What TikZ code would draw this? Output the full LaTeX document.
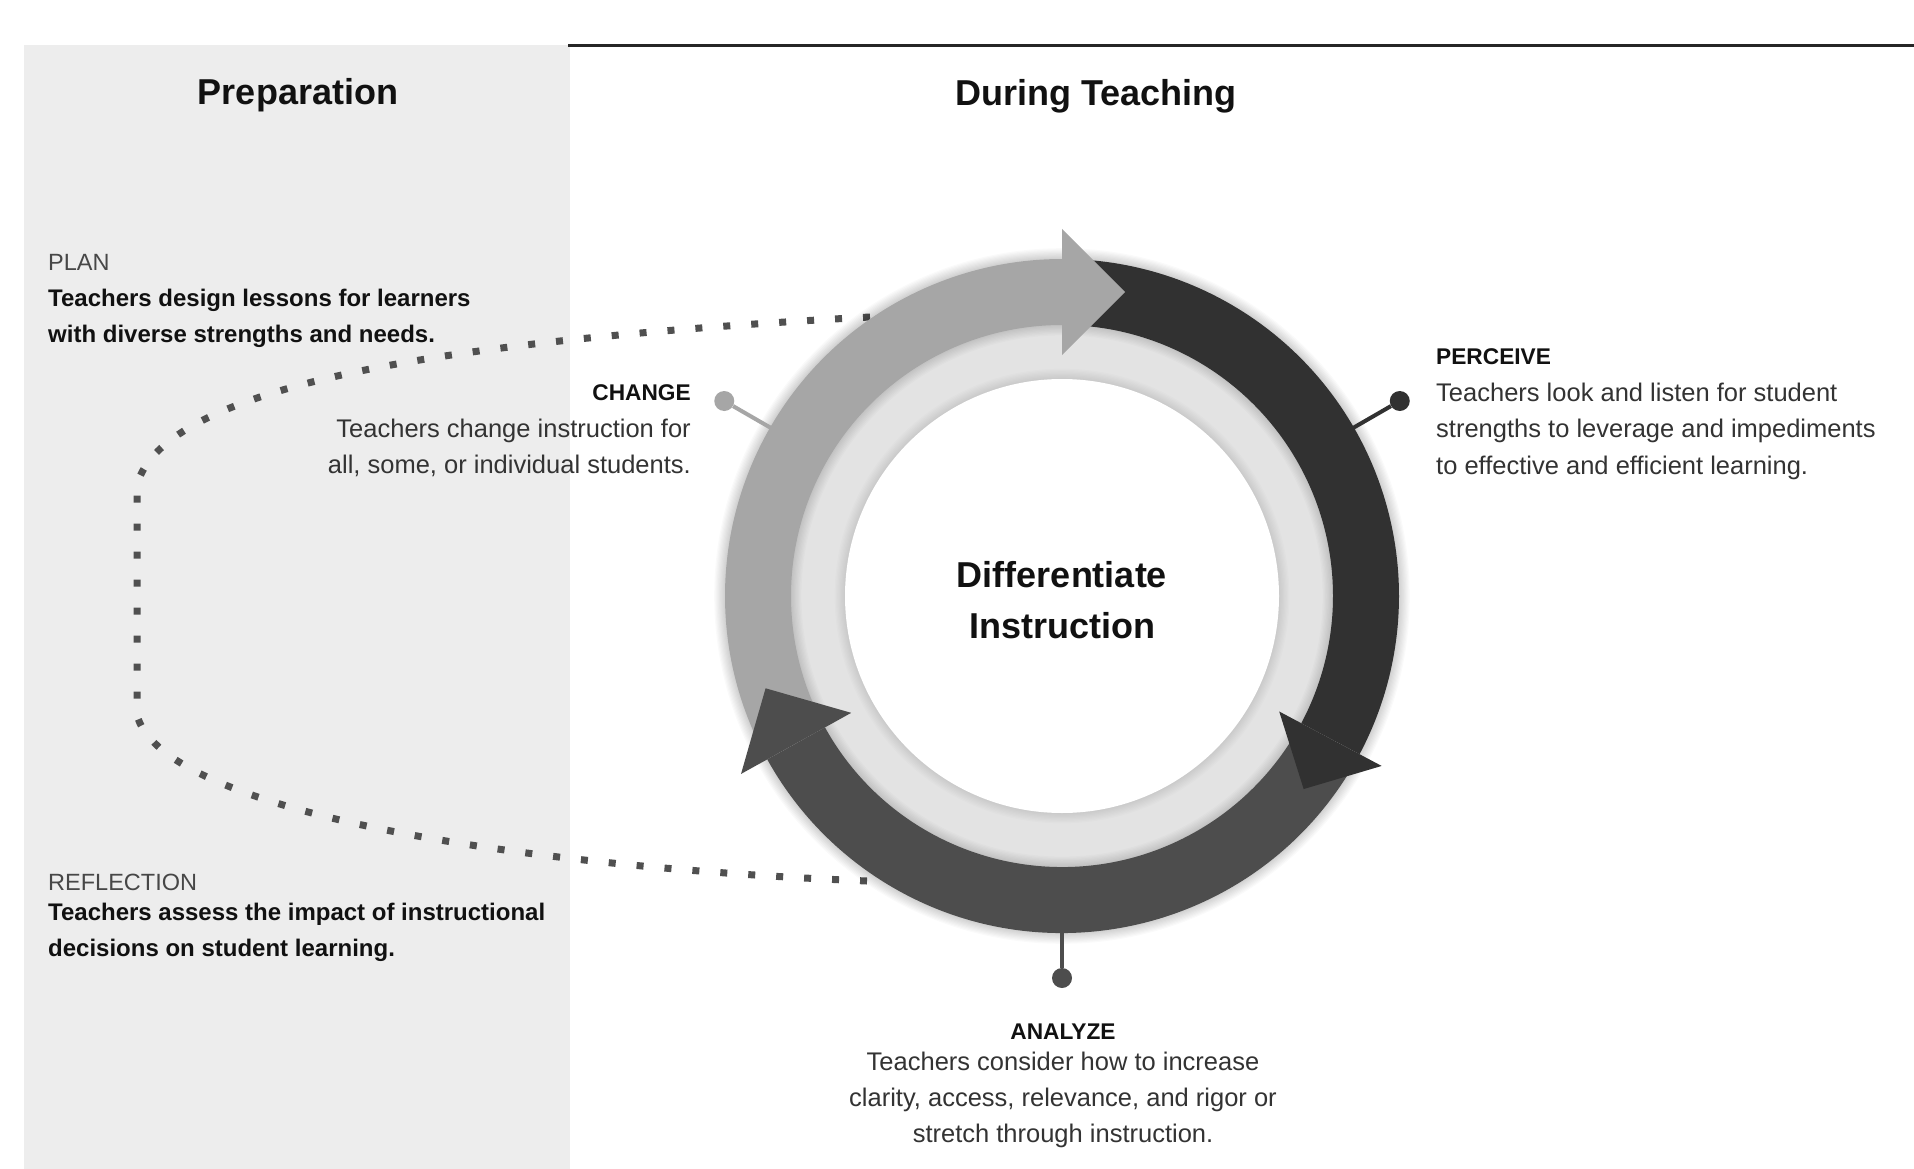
\documentclass[tikz,border=0pt]{standalone}
\usepackage{fontspec}
\setmainfont{Liberation Sans}
\usetikzlibrary{calc}
\definecolor{panel}{HTML}{EDEDED}
\definecolor{arrL}{HTML}{A6A6A6}
\definecolor{arrD}{HTML}{313131}
\definecolor{arrM}{HTML}{4D4D4D}
\definecolor{diskc}{HTML}{E3E3E3}
\definecolor{dotc}{HTML}{505050}
\definecolor{txtc}{HTML}{333333}
\definecolor{inkc}{HTML}{111111}
\begin{document}
\begin{tikzpicture}[x=1pt,y=-1pt,
  head/.style={font=\fontsize{36}{40}\selectfont\bfseries, text=inkc, inner sep=0pt},
  ctr/.style={font=\fontsize{36}{40}\selectfont\bfseries, text=inkc, inner sep=0pt},
  lab/.style={font=\fontsize{22.7}{28}\selectfont\bfseries, text=inkc, inner sep=0pt},
  body/.style={font=\fontsize{25.5}{30}\selectfont, text=txtc, inner sep=0pt},
  bodyb/.style={font=\fontsize{24}{30}\selectfont\bfseries, text=inkc, inner sep=0pt},
  thin/.style={font=\fontsize{23.5}{28}\selectfont, text=txtc!90, inner sep=0pt},
  dotline/.style={dotc, line width=7pt, dash pattern=on 7pt off 21pt},
  pin/.style={circle, inner sep=0pt, minimum size=20pt},
]
\useasboundingbox (0,0) rectangle (1914,1169);
\fill[white] (0,0) rectangle (1914,1169);
% preparation panel
\fill[panel] (24,45) rectangle (570,1169);
\draw[line width=2.2pt, black!85] (568,45.5) -- (1914,45.5);
% headings
\node[head, anchor=base] (hprep) at (298,105) {Preparation};
\node[head, anchor=base] (hteach) at (1096,106) {During Teaching};
% dotted reflection loop
\coordinate (dtop) at (870,317);
\coordinate (dbot) at (867,881);
\draw[dotline] (dtop) .. controls (480,338) and (165,380) .. (137,485) -- (137,715) .. controls (160,805) and (480,865) .. (dbot);
% ring
\begin{scope}[shift={(1062,596)}, y=1pt]
  \foreach \i in {1,...,9}
    \draw[black, opacity=0.018, line width={\i*2.4pt}] (0,0) circle[radius=337];
  \fill[diskc] (0,0) circle[radius=300];
  \foreach \i in {1,...,8}
    \draw[black, opacity=0.014, line width={\i*2.6pt}] (0,0) circle[radius=271];
  \foreach \i in {1,...,8}
    \draw[black, opacity=0.012, line width={\i*2.6pt}] (0,0) circle[radius=217];
  \fill[white] (0,0) circle[radius=217];
  % connectors
  \coordinate (cring) at (150:330);
  \coordinate (pring) at (30:330);
  \coordinate (aring) at (-90:330);
  \node[pin, fill=arrL] (cdot) at (150:390) {};
  \node[pin, fill=arrD] (pdot) at (30:390) {};
  \node[pin, fill=arrM] (adot) at (-90:382) {};
  \draw[arrL, line width=4pt] (cring) -- (cdot);
  \draw[arrD, line width=4pt] (pring) -- (pdot);
  \draw[arrM, line width=4pt] (aring) -- (adot);
  % arrow bodies
  \fill[arrL] (205:337) arc[start angle=205, end angle=90, radius=337] -- (90:271) arc[start angle=90, end angle=205, radius=271] -- cycle;
  \fill[arrD] (86:337) arc[start angle=86, end angle=-28, radius=337] -- (-28:271) arc[start angle=-28, end angle=86, radius=271] -- cycle;
  \fill[arrM] (-31:337) arc[start angle=-31, end angle=-151, radius=337] -- (-151:271) arc[start angle=-151, end angle=-31, radius=271] -- cycle;
  % arrow heads
  \fill[arrL] (90:241) -- (90:367) -- ($(90:304)+(0:63)$) -- cycle;
  \fill[arrD] (-28:246) -- (-28:362) -- ($(-28:304)+(-118:57)$) -- cycle;
  \fill[arrM] (209:241) -- (209:367) -- ($(209:304)+(119:63)$) -- cycle;
\end{scope}
% centre text
\node[ctr, anchor=base] (ctr1) at (1062,587) {Differentiate};
\node[ctr, anchor=base] (ctr2) at (1062,638) {Instruction};
% PERCEIVE
\node[lab, anchor=base west] (perc) at (1436,364) {PERCEIVE};
\node[body, anchor=base west] (perc1) at (1436,401) {Teachers look and listen for student};
\node[body, anchor=base west] (perc2) at (1436,437.5) {strengths to leverage and impediments};
\node[body, anchor=base west] (perc3) at (1436,474) {to effective and efficient learning.};
% CHANGE
\node[lab, anchor=base east] (chg) at (691,400) {CHANGE};
\node[body, anchor=base east] (chg1) at (691,437) {Teachers change instruction for};
\node[body, anchor=base east] (chg2) at (691,473.5) {all, some, or individual students.};
% ANALYZE
\node[lab, anchor=base] (ana) at (1063,1039) {ANALYZE};
\node[body, anchor=base] (ana1) at (1063,1070) {Teachers consider how to increase};
\node[body, anchor=base] (ana2) at (1063,1106) {clarity, access, relevance, and rigor or};
\node[body, anchor=base] (ana3) at (1063,1142) {stretch through instruction.};
% PLAN
\node[thin, anchor=base west] (plan) at (48,270) {PLAN};
\node[bodyb, anchor=base west] (plan1) at (48,306) {Teachers design lessons for learners};
\node[bodyb, anchor=base west] (plan2) at (48,342) {with diverse strengths and needs.};
% REFLECTION
\node[thin, anchor=base west] (refl) at (48,890) {REFLECTION};
\node[bodyb, anchor=base west] (refl1) at (48,920) {Teachers assess the impact of instructional};
\node[bodyb, anchor=base west] (refl2) at (48,956) {decisions on student learning.};
\end{tikzpicture}
\end{document}
